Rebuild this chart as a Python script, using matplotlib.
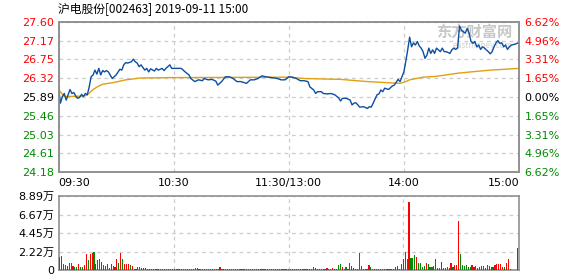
import matplotlib
matplotlib.use("Agg")
import matplotlib.pyplot as plt
import numpy as np

plt.rcParams['font.family'] = ['DejaVu Sans', 'Noto Sans CJK SC']

# price line (minute index from 09:30, price)
minutes = [0, 1, 2, 3, 4, 5, 6, 7, 8, 9, 10, 11, 12, 13, 14, 15, 16, 17, 18, 19,
           20, 21, 22, 23, 24, 25, 26, 28, 29, 30, 32, 33, 34, 35, 36, 38, 39, 40, 41, 42,
           43, 45, 46, 47, 48, 50, 51, 52, 54, 55, 56, 58, 59, 62, 64, 66, 68, 69, 71, 73,
           75, 76, 78, 80, 82, 83, 85, 87, 89, 91, 93, 95, 98, 100, 102, 104, 106, 108, 111, 114,
           116, 118, 119, 120, 122, 124, 126, 128, 130, 131, 133, 134, 135, 137, 138, 140, 142, 144, 146, 147,
           148, 150, 152, 153, 154, 155, 157, 159, 161, 162, 163, 164, 166, 167, 168, 169, 170, 172, 174, 175,
           177, 178, 180, 181, 182, 183, 184, 185, 186, 187, 188, 189, 190, 191, 192, 193, 194, 195, 196, 197,
           199, 200, 201, 202, 204, 205, 206, 207, 208, 209, 210, 211, 212, 213, 214, 215, 216, 217, 218, 219,
           220, 221, 222, 223, 224, 225, 226, 227, 228, 229, 230, 231, 232, 233, 234, 235, 236, 238, 239, 240]
prices = [26.10, 25.75, 25.90, 25.97, 25.82, 25.94, 26.06, 25.97, 25.99, 25.91, 25.86, 25.88, 25.95, 25.90, 25.97, 25.94, 26.12, 26.35, 26.39, 26.50,
          26.41, 26.54, 26.39, 26.49, 26.46, 26.49, 26.46, 26.31, 26.35, 26.39, 26.52, 26.50, 26.62, 26.67, 26.66, 26.69, 26.75, 26.69, 26.66, 26.58,
          26.62, 26.50, 26.54, 26.46, 26.53, 26.48, 26.54, 26.50, 26.54, 26.49, 26.54, 26.62, 26.54, 26.54, 26.54, 26.46, 26.39, 26.31, 26.24, 26.28,
          26.26, 26.31, 26.28, 26.29, 26.25, 26.16, 26.24, 26.35, 26.35, 26.31, 26.24, 26.24, 26.20, 26.28, 26.28, 26.31, 26.37, 26.35, 26.33, 26.31,
          26.28, 26.28, 26.31, 26.35, 26.34, 26.31, 26.26, 26.26, 26.24, 26.12, 26.05, 25.97, 26.01, 26.01, 25.97, 25.96, 25.97, 25.94, 25.87, 25.80,
          25.86, 25.86, 25.82, 25.71, 25.75, 25.76, 25.66, 25.67, 25.63, 25.67, 25.66, 25.75, 25.94, 25.96, 26.05, 26.01, 26.09, 26.06, 26.14, 26.16,
          26.29, 26.24, 26.46, 26.70, 26.96, 27.25, 27.03, 27.12, 27.07, 27.15, 27.05, 27.00, 26.92, 26.77, 26.84, 27.00, 26.88, 26.96, 26.88, 27.00,
          26.92, 27.00, 26.92, 26.92, 26.88, 26.96, 27.00, 26.97, 27.00, 27.50, 27.41, 27.37, 27.34, 27.45, 27.34, 27.15, 27.11, 27.15, 27.03, 27.07,
          26.97, 27.03, 27.00, 26.96, 26.92, 26.87, 26.92, 27.03, 27.12, 27.17, 27.11, 27.12, 27.03, 27.07, 26.97, 27.03, 27.07, 27.09, 27.11, 27.12]

# average price line
avg_minutes = [0, 3, 13, 15, 18, 21, 23, 29, 32, 35, 39, 42, 57, 120, 128, 147, 161, 178, 181, 183,
               190, 197, 208, 215, 225, 240]
avg_prices = [26.06, 25.90, 25.91, 25.94, 26.06, 26.14, 26.18, 26.22, 26.25, 26.28, 26.30, 26.32, 26.33, 26.34, 26.31, 26.29, 26.24, 26.20, 26.24, 26.28,
              26.34, 26.36, 26.43, 26.46, 26.50, 26.54]

# volume per minute (万) and direction (R up / G down)
volume = [1.61, 1.69, 0.69, 0.60, 0.52, 0.88, 0.88, 0.52, 0.36, 0.40,
          0.72, 0.33, 0.40, 0.64, 1.93, 1.21, 1.93, 2.05, 2.17, 0.72,
          1.21, 1.33, 0.97, 0.60, 0.52, 0.76, 0.28, 0.72, 0.48, 0.40,
          1.37, 0.80, 2.05, 1.37, 0.72, 0.72, 0.76, 0.60, 0.45, 0.16,
          0.08, 0.36, 0.33, 0.20, 0.20, 0.28, 0.10, 0.12, 0.08, 0.10,
          0.10, 0.08, 0.12, 0.10, 0.08, 0.10, 0.12, 0.08, 0.10, 0.10,
          0.08, 0.10, 0.12, 0.10, 0.08, 0.10, 0.12, 0.10, 0.08, 0.10,
          0.12, 0.24, 0.24, 0.10, 0.08, 0.10, 0.12, 0.10, 0.08, 0.10,
          0.10, 0.12, 0.10, 0.08, 0.36, 0.10, 0.10, 0.08, 0.12, 0.10,
          0.10, 0.08, 0.10, 0.12, 0.10, 0.10, 0.08, 0.12, 0.10, 0.10,
          0.10, 0.12, 0.08, 0.10, 0.10, 0.12, 0.10, 0.08, 0.10, 0.10,
          0.12, 0.10, 0.10, 0.08, 0.10, 0.12, 0.10, 0.10, 0.08, 0.12,
          0.10, 0.12, 0.10, 0.08, 0.10, 0.10, 0.12, 0.10, 0.08, 0.10,
          0.10, 0.12, 0.10, 0.35, 0.20, 0.10, 0.08, 0.10, 0.12, 0.10,
          0.20, 0.15, 0.10, 0.20, 0.15, 0.10, 0.64, 0.72, 0.40, 0.10,
          0.40, 0.10, 0.84, 0.52, 0.20, 0.10, 0.12, 2.05, 0.52, 0.10,
          0.10, 0.12, 0.60, 0.40, 0.10, 0.12, 0.10, 0.08, 0.10, 0.12,
          0.10, 0.12, 0.10, 0.10, 0.12, 0.10, 0.32, 0.44, 0.12, 0.68,
          1.37, 2.17, 1.29, 8.24, 1.45, 1.45, 1.81, 1.57, 0.88, 0.88,
          0.40, 0.44, 0.88, 0.68, 0.40, 0.32, 0.48, 1.37, 0.24, 0.24,
          0.97, 0.28, 0.24, 0.40, 0.28, 0.84, 0.40, 0.56, 0.56, 5.95,
          1.93, 0.60, 0.48, 0.56, 0.32, 0.40, 0.60, 0.36, 0.48, 0.24,
          0.32, 0.44, 0.52, 0.28, 0.60, 0.44, 0.36, 0.40, 0.60, 0.76,
          0.72, 0.72, 0.40, 0.40, 0.88, 1.37, 0.08, 0.05, 0.05, 0.05,
          2.69]
direction = ("GRGGRGGRGG" "RGGRRGRRGR" "RGRGRGGRGR" "RGRGRRRGRG" "GGGGRRRGGR"
             "GGRGGRGGRG" "GGGRGGGRGG" "GGRRGGGGRG" "GGRGRGRGGR" "GRGGGRRGGR"
             "GGRRGRRRGG" "GRRGRRRRGR" "GGRGGGRGGG" "GGGGRGGRGG" "RGGRGGGGRG"
             "GGGRGRGGRG" "GRRGGRGRGG" "RGRRGRRRGR" "RRGRGGGRGG" "GGRGGGGRGG"
             "RGGGGRGRRR" "GGGGGGRRGG" "RGGRGGRGRR" "RRRGRRGGGG" "R")

price_ticks = [24.18, 24.61, 25.03, 25.46, 25.89, 26.32, 26.75, 27.17, 27.60]
pct_labels = ["6.62%", "4.96%", "3.31%", "1.65%", "0.00%", "1.65%", "3.31%", "4.96%", "6.62%"]
vol_ticks = [0, 2.22, 4.45, 6.67, 8.89]
vol_labels = ["0", "2.22万", "4.45万", "6.67万", "8.89万"]
time_ticks = [0, 60, 120, 180, 240]
time_labels = ["09:30", "10:30", "11:30/13:00", "14:00", "15:00"]
prev_close = 25.89

RED = "#ff0000"
GREEN = "#008a00"
BORDER = "#909090"
GRID = "#cccccc"


def label_color(p):
    if p > prev_close + 0.001:
        return RED
    if p < prev_close - 0.001:
        return GREEN
    return "black"


fig = plt.figure(figsize=(5.78, 2.76), dpi=100)
W, H = 578, 276
ax = fig.add_axes([58.5 / W, 1 - 172.3 / H, 460.5 / W, 150.6 / H])
axv = fig.add_axes([58.5 / W, 1 - 270 / H, 460.5 / W, 73.7 / H])

# price panel
ax.plot(avg_minutes, avg_prices, color="#e0a010", lw=1.0, zorder=3)
ax.plot(minutes, prices, color="#0b4fa0", lw=1.0, zorder=4)
ax.set_xlim(0, 240)
ax.set_ylim(price_ticks[0], price_ticks[-1])
ax.set_yticks(price_ticks)
ax.set_yticklabels(["%.2f" % p for p in price_ticks])
for lab, p in zip(ax.get_yticklabels(), price_ticks):
    lab.set_color(label_color(p))
ax.set_xticks(time_ticks)
ax.set_xticklabels(time_labels)
xl = ax.get_xticklabels()
xl[0].set_ha("left")
xl[-1].set_ha("right")
ax.tick_params(axis="both", length=0, labelsize=8)
ax.tick_params(axis="y", pad=3)
ax.tick_params(axis="x", pad=4)
ax.grid(True, color=GRID, ls=(0, (3, 3)), lw=0.9)

axr = ax.twinx()
axr.set_ylim(price_ticks[0], price_ticks[-1])
axr.set_yticks(price_ticks)
axr.set_yticklabels(pct_labels)
for lab, p in zip(axr.get_yticklabels(), price_ticks):
    lab.set_color(label_color(p))
axr.tick_params(axis="y", length=0, labelsize=8, pad=4)

for a in (ax, axr, axv):
    for s in a.spines.values():
        s.set_color(BORDER)
        s.set_linewidth(1.2)

# watermark
ax.text(0.985, 0.93, "东方财富网", transform=ax.transAxes, ha="right", va="center",
        fontsize=11, color="#c8c8c8", family=["Noto Sans CJK SC"], fontweight="bold", zorder=1)
ax.text(0.985, 0.84, "eastmoney.com", transform=ax.transAxes, ha="right", va="center",
        fontsize=5.5, color="#d0d0d0", zorder=1)

# volume panel
x = np.arange(len(volume))
colors = [RED if d == "R" else GREEN for d in direction]
axv.bar(x, volume, width=0.6, color=colors, linewidth=0, antialiased=False, zorder=3)
axv.set_xlim(-0.6, 240.6)
axv.set_ylim(0, vol_ticks[-1])
axv.set_yticks(vol_ticks)
axv.set_yticklabels(vol_labels, family=["DejaVu Sans", "Noto Sans CJK SC"])
axv.set_xticks([60, 120, 180])
axv.set_xticklabels([])
axv.tick_params(axis="both", length=0, labelsize=8)
axv.tick_params(axis="y", pad=3)
axv.grid(True, color=GRID, ls=(0, (3, 3)), lw=0.9)

fig.text(58 / W, 1 - 9 / H, "沪电股份[002463] 2019-09-11 15:00", ha="left", va="center",
         fontsize=8.5, family=["Noto Sans CJK SC", "DejaVu Sans"])

fig.savefig("out.png", dpi=100)
